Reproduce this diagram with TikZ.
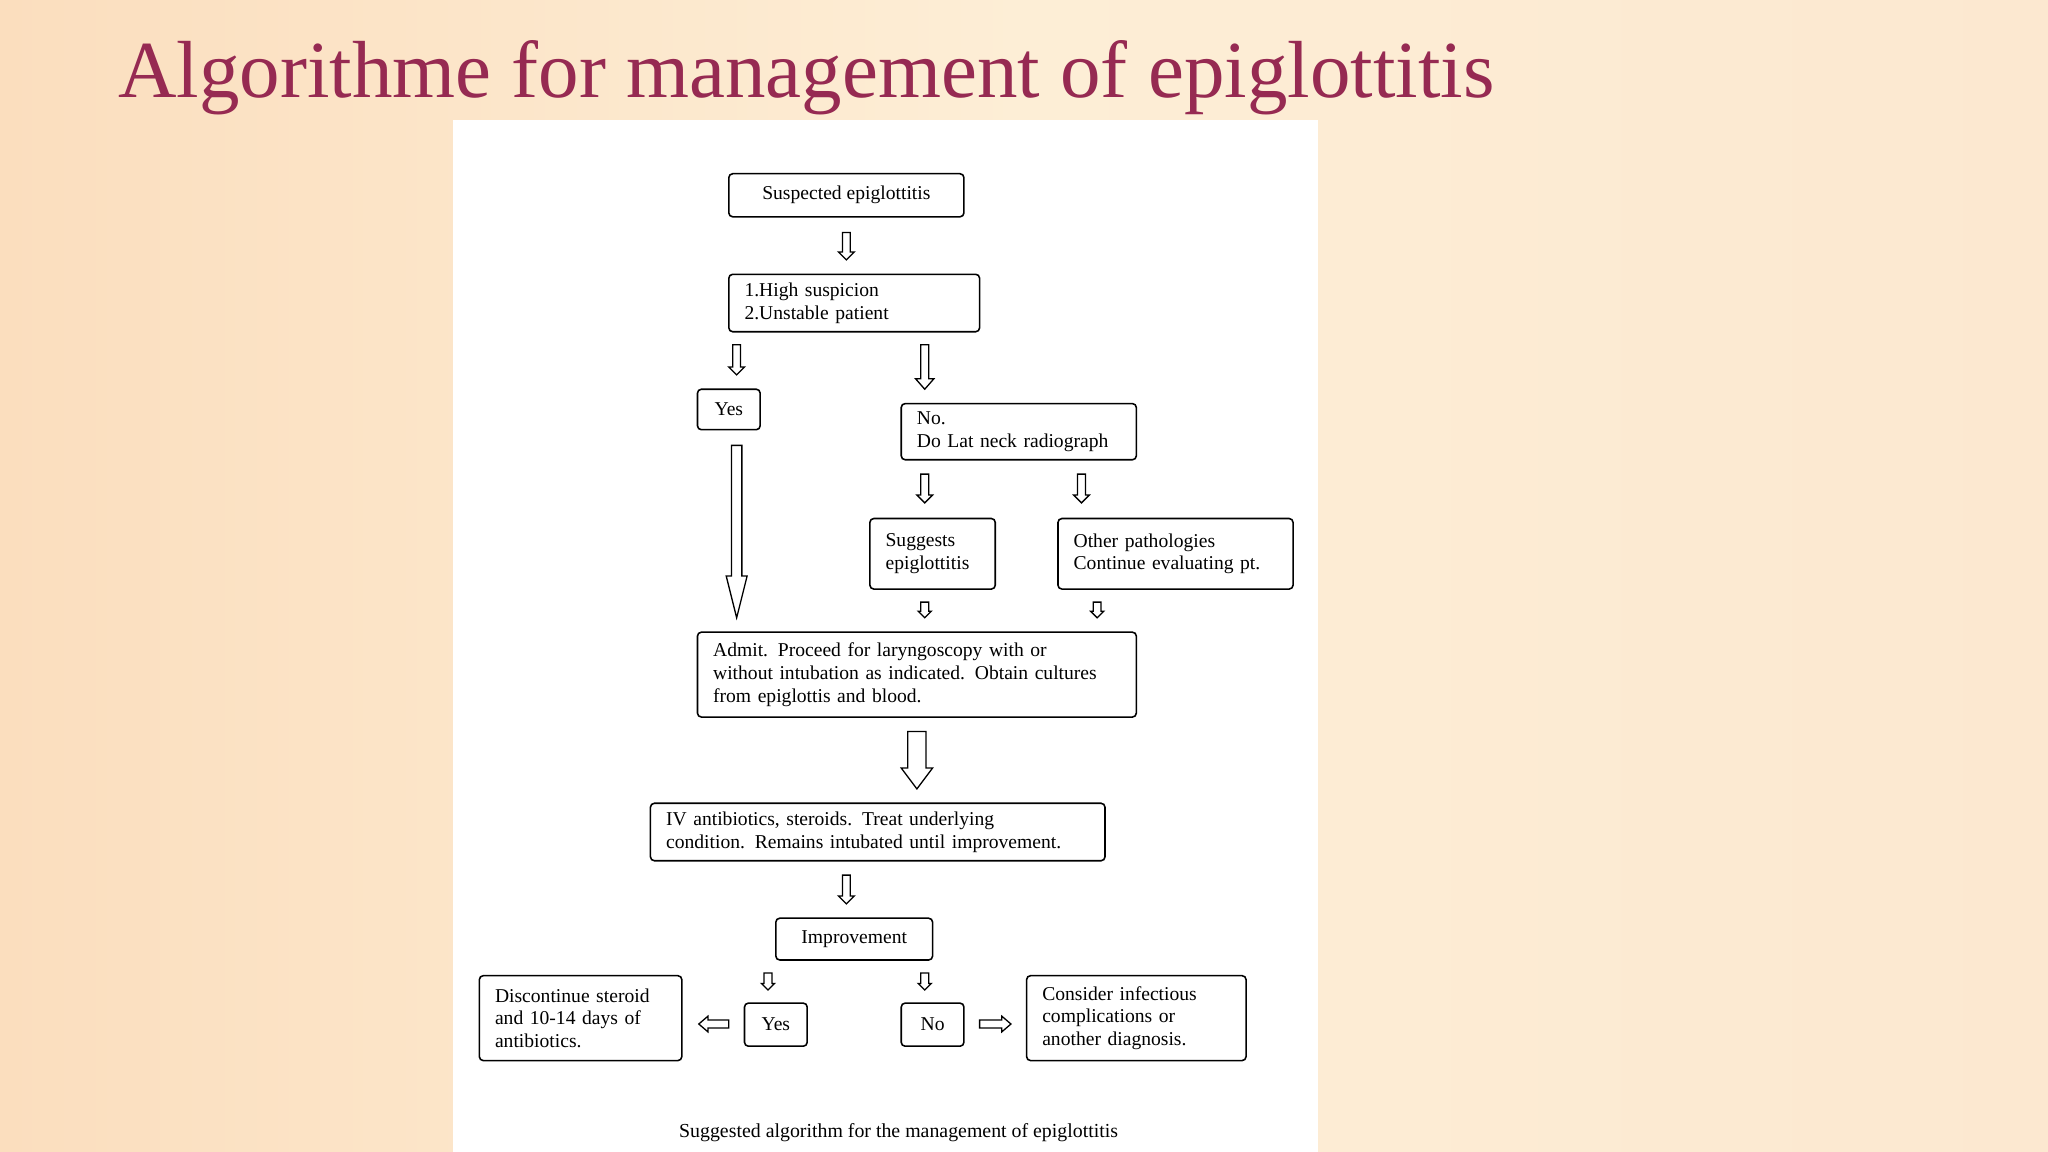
\documentclass[tikz,border=0pt]{standalone}
\usepackage{fontspec}
\newfontfamily\tms{Liberation Serif}
\definecolor{titlec}{RGB}{150,42,82}
\definecolor{bgl}{RGB}{251,222,190}
\definecolor{bgm}{RGB}{253,238,214}
\definecolor{bgr}{RGB}{252,232,208}
\newcommand\downarr[6]{\draw[line width=0.5pt,fill=white] (#1-#4,#2) -- (#1+#4,#2) -- (#1+#4,#2+#3-#6) -- (#1+#5,#2+#3-#6) -- (#1,#2+#3) -- (#1-#5,#2+#3-#6) -- (#1-#4,#2+#3-#6) -- cycle;}
\newcommand\horarr[6]{\draw[line width=0.5pt,fill=white] (#1,#2-#4) -- (#1,#2+#4) -- (#1+#3-#6,#2+#4) -- (#1+#3-#6,#2+#5) -- (#1+#3,#2) -- (#1+#3-#6,#2-#5) -- (#1+#3-#6,#2-#4) -- cycle;}
\begin{document}
\begin{tikzpicture}[x=0.5pt,y=-0.5pt,
  box/.style={draw,line width=0.6pt,rounded corners=1.5pt,font=\tms\fontsize{7.5}{8.7}\selectfont,inner ysep=1pt},
  lbox/.style={box,align=left,inner xsep=6pt},
  cbox/.style={box,align=center,inner xsep=2pt}]
\useasboundingbox (0,0) rectangle (1568,882);
\shade[left color=bgl,right color=bgr,middle color=bgm] (0,0) rectangle (1568,882);
\fill[white] (347,92) rectangle (1009,882);
\node[anchor=base west,text=titlec,font=\tms\fontsize{31}{36}\selectfont,inner sep=0] (title) at (90,75) {Algorithme for management of epiglottitis};
\node[cbox,minimum width=90pt,minimum height=16.5pt] (b1) at (648,149.5) {Suspected epiglottitis};
\node[lbox,text width=84pt,minimum height=22pt] (b2) at (654,232) {1.High suspicion\\2.Unstable patient};
\node[cbox,minimum width=24pt,minimum height=15.5pt] (b3) at (558,313.5) {Yes};
\node[lbox,text width=78pt,minimum height=21.5pt] (b4) at (780,330.5) {No.\\Do Lat neck radiograph};
\node[lbox,text width=36pt,minimum height=27pt] (b5) at (714,424) {Suggests\\epiglottitis};
\node[lbox,text width=78pt,minimum height=27pt] (b6) at (900,424) {Other pathologies\\Continue evaluating pt.};
\node[lbox,text width=156pt,minimum height=32.5pt] (b7) at (702,516.5) {Admit. Proceed for laryngoscopy with or\\without intubation as indicated. Obtain cultures\\from epiglottis and blood.};
\node[lbox,text width=162pt,minimum height=22pt] (b8) at (672,637) {IV antibiotics, steroids. Treat underlying\\condition. Remains intubated until improvement.};
\node[cbox,minimum width=60pt,minimum height=16pt] (b9) at (654,719) {Improvement};
\node[lbox,text width=65.5pt,minimum height=32.5pt] (b10) at (444.5,779.5) {Discontinue steroid\\and 10-14 days of\\antibiotics.};
\node[cbox,minimum width=24pt,minimum height=16.5pt] (b11) at (594,784.5) {Yes};
\node[cbox,minimum width=24pt,minimum height=16.5pt] (b12) at (714,784.5) {No};
\node[lbox,text width=72pt,minimum height=32.5pt] (b13) at (870,779.5) {Consider infectious\\complications or\\another diagnosis.};
\node[font=\tms\fontsize{7.6}{8.6}\selectfont] (cap) at (688,867) {Suggested algorithm for the management of epiglottitis};
\downarr{648}{178}{21}{3}{6}{6}
\downarr{564}{264}{23}{3}{6}{6}
\downarr{708}{264}{34}{3}{7}{8}
\downarr{708}{363}{22}{3}{6}{6}
\downarr{828}{363}{22}{3}{6}{6}
\downarr{564}{341}{132}{4}{8}{32}
\downarr{708}{461}{12}{3}{5}{5}
\downarr{840}{461}{12}{3}{5}{5}
\downarr{702}{560}{44}{7}{12}{16}
\downarr{648}{670}{22}{3}{6}{6}
\downarr{588}{745}{13}{3}{5}{5}
\downarr{708}{745}{13}{3}{5}{5}
\horarr{558}{784}{-23}{3}{6}{-7}
\horarr{750}{784}{24}{3}{6}{7}
\end{tikzpicture}
\end{document}
